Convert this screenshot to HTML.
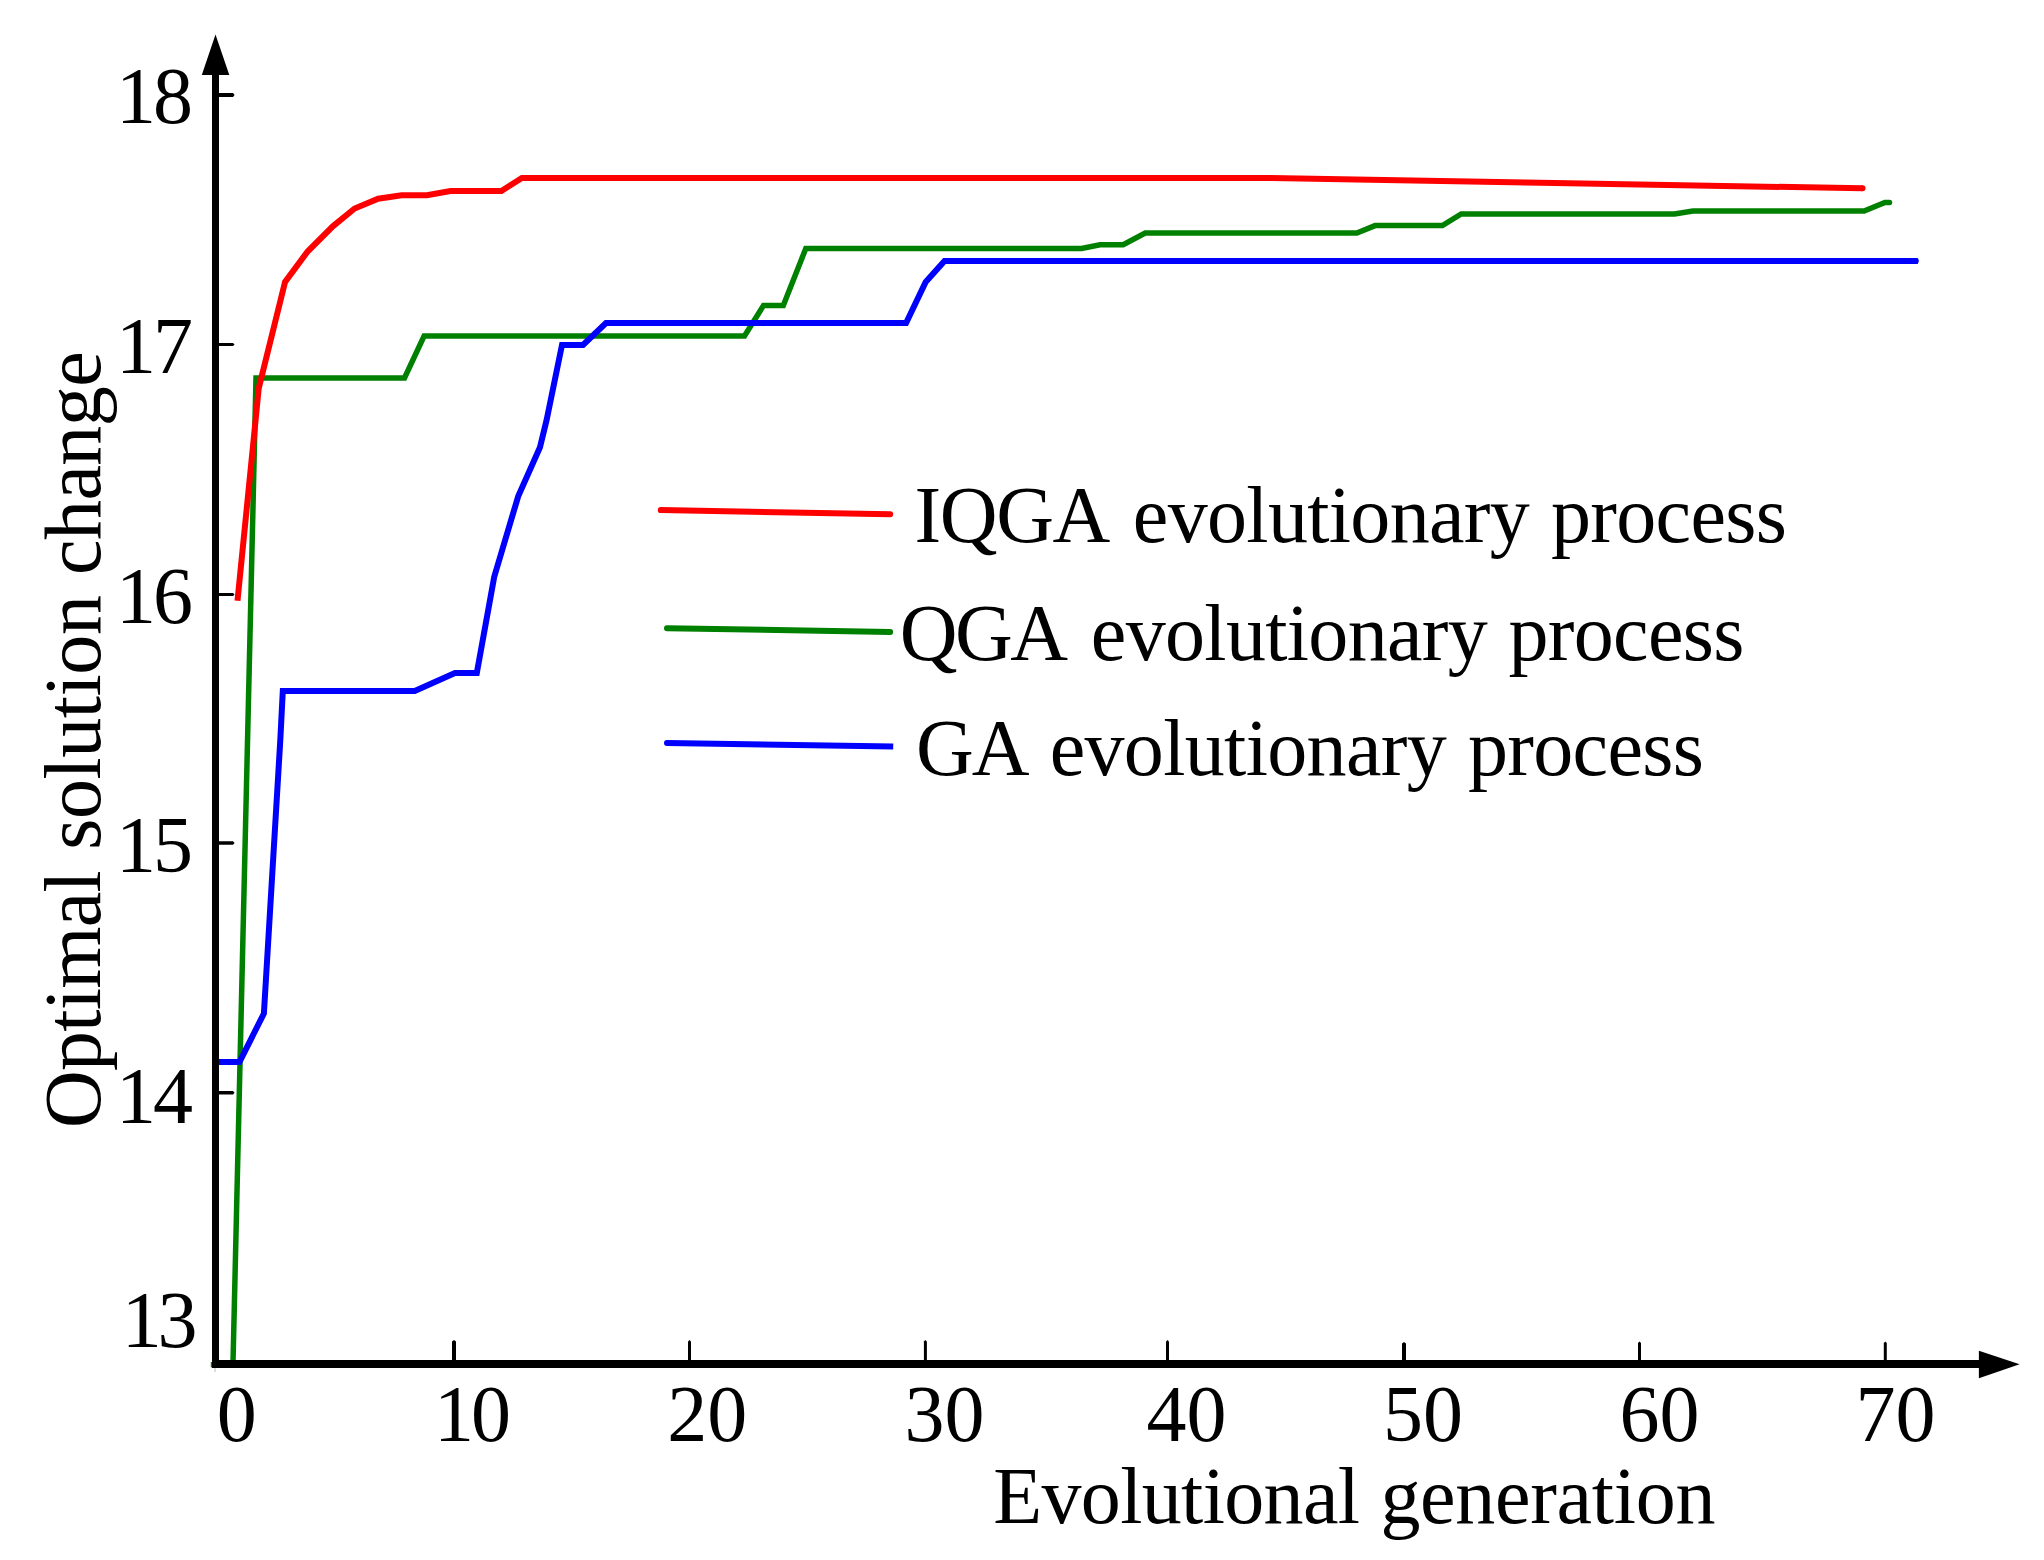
<!DOCTYPE html>
<html lang="en">
<head>
<meta charset="utf-8">
<title>Optimal solution change</title>
<style>
html,body{margin:0;padding:0;background:#fff;}
body{width:2044px;height:1560px;overflow:hidden;}
svg{display:block;}
text{font-family:"Liberation Serif",serif;font-size:80px;fill:#000;font-kerning:none;}
</style>
</head>
<body>
<svg width="2044" height="1560" viewBox="0 0 2044 1560">
<rect width="2044" height="1560" fill="#fff"/>

<!-- data curves -->
<g fill="none" stroke-linejoin="miter" stroke-linecap="butt">
<polyline id="green" stroke="#008000" stroke-width="5.5" stroke-linecap="round" points="233,1363 256,378 404.5,378 424.1,336 744.5,336 763.5,305.5 783.3,305.5 805.8,248.5 1081.6,248.5 1100,244.7 1123.2,244.7 1145.2,233 1356.8,233 1375.1,225.6 1442.4,225.6 1461.2,214 1674.5,214 1692.9,211 1864.1,211 1884.9,202.5 1889.5,202.5"/>
<polyline id="blue" stroke="#0000ff" stroke-width="6" points="218,1062 239.5,1062 263.9,1013.5 280.3,740 282.8,691 414.7,691 455,673 476.8,673 494.2,576.9 518.2,496.3 540,447.2 546.6,420 562,345 583,345 606,323 906.1,323 925.7,281.9 944.5,261 1917.9,261"/>
<polyline id="red" stroke="#ff0000" stroke-width="6" points="237.5,600.7 255.6,420 258.7,388.5 285.1,281.9 307.6,251.5 333.1,226.1 354.6,208.5 378.1,198.7 401.6,195.2 427,195.2 450.5,191 501.4,191 521.9,178 1271,178 1540,182.8 1862.5,188.3"/>
</g>
<circle cx="1862.5" cy="188.3" r="3" fill="#ff0000"/>
<circle cx="1916.5" cy="261" r="2.4" fill="#0000ff"/>
<rect x="210.8" y="1362" width="1.4" height="5.4" fill="#008000"/>
<rect x="214" y="1368" width="2" height="4" fill="#dcdcdc"/>

<!-- axes -->
<g stroke="#000" fill="none">
<line x1="215.5" y1="72" x2="215.5" y2="1368" stroke-width="7"/>
<line x1="212" y1="1364" x2="1981" y2="1364" stroke-width="8"/>
</g>
<polygon points="215.5,34.4 229.3,75 201.8,75" fill="#000"/>
<polygon points="2019.6,1364.2 1978.9,1350.8 1978.9,1378.3" fill="#000"/>

<!-- y ticks -->
<g fill="#000">
<polygon points="218,93 233,93 234.6,95 233,97 218,97"/>
<polygon points="218,343 233,343 234.6,344.5 233,346 218,346"/>
<polygon points="218,593 233,593 234.6,594.5 233,596 218,596"/>
<polygon points="218,841.3 233,841.3 234.6,843 233,844.7 218,844.7"/>
<polygon points="218,1091.1 233,1091.1 234.6,1092.8 233,1094.5 218,1094.5"/>
</g>
<!-- x ticks -->
<g fill="#000">
<polygon points="452,1361 452,1341.4 454,1340 456,1341.4 456,1361"/>
<polygon points="688,1361 688,1341.4 689.5,1340 691,1341.4 691,1361"/>
<polygon points="923.9,1361 923.9,1341.4 925.4,1340 926.9,1341.4 926.9,1361"/>
<polygon points="1166,1361 1166,1341.4 1167.5,1340 1169,1341.4 1169,1361"/>
<polygon points="1402,1361 1402,1343.4 1404,1342 1406,1343.4 1406,1361"/>
<polygon points="1638,1361 1638,1343 1639.5,1341.6 1641,1343 1641,1361"/>
<polygon points="1883.8,1361 1883.8,1343 1885.3,1341.6 1886.8,1343 1886.8,1361"/>
</g>

<!-- y tick labels -->
<g id="ylabels">
<text x="116 153" y="122.8">18</text>
<text x="116 153" y="373">17</text>
<text x="116 153" y="623">16</text>
<text x="116 153" y="872.3">15</text>
<text x="116 153" y="1123">14</text>
<text x="121.8 157.6" y="1346.8">13</text>
</g>
<!-- x tick labels -->
<g id="xlabels">
<text x="216.8" y="1441.4">0</text>
<text x="434.1 471.1" y="1441.4">10</text>
<text x="667.3" y="1441.4">20</text>
<text x="904.6" y="1441.4">30</text>
<text x="1146.5" y="1441.4">40</text>
<text x="1383" y="1441.4">50</text>
<text x="1619.5" y="1441.4">60</text>
<text x="1855.4" y="1441.4">70</text>
</g>

<!-- axis titles -->
<text id="xtitle" y="1522.6"><tspan x="993.3" style="letter-spacing:-0.66px">Evolutional </tspan><tspan x="1380.4" style="letter-spacing:-0.29px">generation</tspan></text>
<text id="ytitle" transform="translate(100.1,0) rotate(-90)" y="0"><tspan x="-1127.9" style="letter-spacing:-0.77px">Optimal </tspan><tspan x="-849.7" style="letter-spacing:-0.46px">solution </tspan><tspan x="-575" style="letter-spacing:-0.56px">change</tspan></text>

<!-- legend -->
<g fill="none" stroke-width="6">
<line x1="660.8" y1="510.1" x2="890.2" y2="514.2" stroke="#ff0000" stroke-linecap="round"/>
<line x1="667" y1="628.2" x2="890.2" y2="632" stroke="#008000" stroke-linecap="round"/>
<line x1="667" y1="743.1" x2="893.2" y2="746.5" stroke="#0000ff"/>
</g>
<circle cx="667" cy="743.1" r="3" fill="#0000ff"/>
<text id="leg1" y="541.9"><tspan x="914.6" style="letter-spacing:-1.4px">IQGA </tspan><tspan x="1132.8" style="letter-spacing:-0.664px">evolutionary </tspan><tspan x="1551" style="letter-spacing:-0.68px">process</tspan></text>
<text id="leg2" y="659.7"><tspan x="899.7" style="letter-spacing:-2.45px">QGA </tspan><tspan x="1090.8" style="letter-spacing:-0.664px">evolutionary </tspan><tspan x="1508.5" style="letter-spacing:-0.68px">process</tspan></text>
<text id="leg3" y="774.8"><tspan x="915.9" style="letter-spacing:-2px">GA </tspan><tspan x="1049.7" style="letter-spacing:-0.664px">evolutionary </tspan><tspan x="1468" style="letter-spacing:-0.68px">process</tspan></text>
</svg>
</body>
</html>
